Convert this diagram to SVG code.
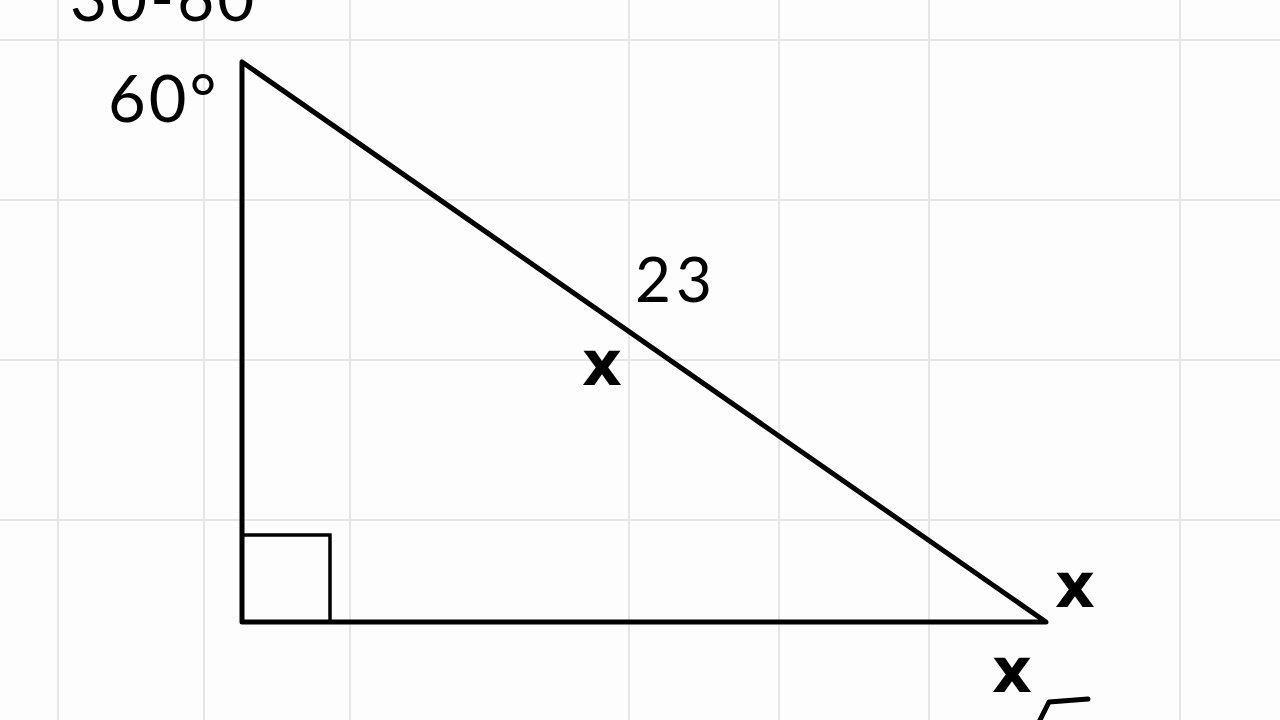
<svg xmlns="http://www.w3.org/2000/svg" width="1280" height="720" viewBox="0 0 1280 720">
<style>
.grid line{stroke:#e6e6e6;stroke-width:2}
.lbl{font-family:"Lato","Open Sans","Liberation Sans",sans-serif;fill:#000}
.hand{font-family:"DejaVu Sans","Liberation Sans",sans-serif;font-weight:bold;fill:#000}
.edge{stroke:#000;stroke-width:5;fill:none;stroke-linecap:round;stroke-linejoin:round}
</style>
<rect width="1280" height="720" fill="#fdfdfd"/>
<g class="grid">
<line x1="0" y1="40" x2="1280" y2="40"/>
<line x1="0" y1="200" x2="1280" y2="200"/>
<line x1="0" y1="360" x2="1280" y2="360"/>
<line x1="0" y1="520" x2="1280" y2="520"/>
<line x1="58" y1="0" x2="58" y2="720"/>
<line x1="204" y1="0" x2="204" y2="720"/>
<line x1="350" y1="0" x2="350" y2="720"/>
<line x1="629" y1="0" x2="629" y2="720"/>
<line x1="779" y1="0" x2="779" y2="720"/>
<line x1="929" y1="0" x2="929" y2="720"/>
<line x1="1180" y1="0" x2="1180" y2="720"/>
</g>
<g id="triangle">
<path class="edge" d="M242 62 L242 622 L1046 622 Z"/>
<path d="M242 535 L330 535 L330 622" fill="none" stroke="#000" stroke-width="3.5"/>
</g>
<g id="labels">
<text class="lbl" x="70" y="21" font-size="64" letter-spacing="3">30-60</text>
<text class="lbl" x="108" y="122" font-size="65" letter-spacing="3">60°</text>
<text class="lbl" x="635" y="302" font-size="62" letter-spacing="5">23</text>
<text class="hand" x="582" y="385" font-size="62">x</text>
<text class="hand" x="1055" y="607" font-size="62">x</text>
<text class="hand" x="992" y="692" font-size="62">x</text>
</g>
<g id="radical">
<path d="M1088 699 L1049 702 L1039 722" fill="none" stroke="#000" stroke-width="5" stroke-linecap="round" stroke-linejoin="round"/>
</g>
</svg>
